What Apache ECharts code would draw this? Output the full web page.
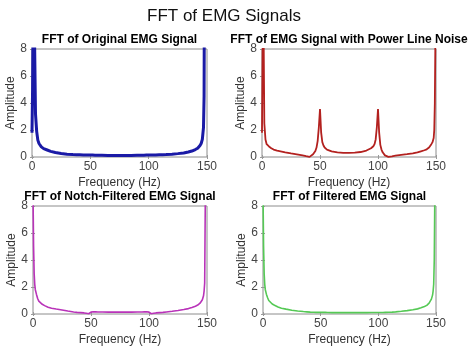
<!DOCTYPE html>
<html>
<head>
<meta charset="UTF-8">
<title>FFT of EMG Signals</title>
<script src="https://cdn.jsdelivr.net/npm/echarts@6/dist/echarts.min.js"></script>
<style>
  html, body { margin: 0; padding: 0; background: #fff; }
  #chart { width: 474px; height: 354px; }
</style>
</head>
<body>
<div id="chart"></div>
<script>
// frequency bins (Hz) shared by the four spectra
var freq = [0, 0.5, 1, 1.5, 2, 3, 4, 5, 6, 8, 10, 13, 16, 20, 25, 30, 35, 38, 41, 44,
    46, 47, 48, 49, 50, 51, 52, 53, 54, 56, 60, 65, 70, 75, 80, 85, 90, 94, 96, 97,
    98, 99, 100, 101, 102, 103, 104, 106, 109, 112, 115, 120, 125, 130, 134, 137, 140, 142, 144, 145,
    146, 147, 147.5, 148, 148.5, 149, 149.5, 150];

// amplitudes (values above 8 are cut by the axis)
var ampOriginal = [1.8, 5, 12, 20, 10, 3.2, 1.9, 1.25, 1.0, 0.75, 0.62, 0.52, 0.42, 0.33, 0.26, 0.21, 0.18, 0.17, 0.16, 0.15,
    0.15, 0.15, 0.14, 0.14, 0.14, 0.14, 0.14, 0.14, 0.13, 0.13, 0.13, 0.12, 0.12, 0.12, 0.12, 0.12, 0.13, 0.13, 0.13, 0.13,
    0.14, 0.14, 0.14, 0.14, 0.14, 0.15, 0.15, 0.15, 0.16, 0.17, 0.18, 0.21, 0.25, 0.3, 0.37, 0.44, 0.55, 0.65, 0.85, 1.0,
    1.3, 2.2, 4.5, 20, 20, 20, 20, 20];
var ampNoisy = [1.8, 8, 20, 8, 2.5, 1.3, 0.95, 0.85, 0.78, 0.65, 0.55, 0.47, 0.42, 0.35, 0.27, 0.2, 0.12, 0.06, 0.01, 0.2,
    0.45, 0.7, 1.2, 2.2, 3.55, 1.8, 1.1, 0.85, 0.7, 0.55, 0.42, 0.35, 0.31, 0.3, 0.32, 0.37, 0.48, 0.65, 0.8, 0.95,
    1.3, 2.2, 3.55, 1.8, 0.9, 0.55, 0.35, 0.12, 0.01, 0.05, 0.1, 0.16, 0.21, 0.27, 0.34, 0.42, 0.5, 0.57, 0.7, 0.8,
    0.95, 1.1, 1.2, 1.4, 2, 4, 9, 20];
var ampNotch = [9, 5, 3, 2.2, 1.8, 1.45, 1.15, 0.95, 0.85, 0.72, 0.62, 0.5, 0.43, 0.37, 0.3, 0.22, 0.15, 0.12, 0.1, 0.08,
    0.05, 0.03, 0.02, 0.03, 0.14, 0.17, 0.17, 0.16, 0.16, 0.15, 0.15, 0.14, 0.14, 0.14, 0.14, 0.14, 0.15, 0.15, 0.16, 0.16,
    0.17, 0.17, 0.14, 0.03, 0.02, 0.03, 0.05, 0.08, 0.1, 0.12, 0.15, 0.2, 0.26, 0.33, 0.4, 0.48, 0.58, 0.66, 0.8, 0.9,
    1.05, 1.35, 1.7, 2.3, 8, 12, 12, 12];
var ampFiltered = [9, 5, 3, 2.2, 1.8, 1.45, 1.2, 1.0, 0.88, 0.74, 0.65, 0.52, 0.43, 0.36, 0.28, 0.22, 0.18, 0.16, 0.14, 0.13,
    0.12, 0.12, 0.12, 0.12, 0.12, 0.12, 0.12, 0.12, 0.12, 0.11, 0.1, 0.1, 0.1, 0.1, 0.1, 0.1, 0.1, 0.11, 0.11, 0.11,
    0.11, 0.11, 0.11, 0.11, 0.11, 0.11, 0.11, 0.12, 0.13, 0.14, 0.16, 0.2, 0.25, 0.31, 0.38, 0.46, 0.56, 0.64, 0.8, 0.92,
    1.1, 1.4, 1.7, 2.2, 4, 9, 12, 12];

var panelTitles = ['FFT of Original EMG Signal', 'FFT of EMG Signal with Power Line Noise',
    'FFT of Notch-Filtered EMG Signal', 'FFT of Filtered EMG Signal'];
var panelData = [ampOriginal, ampNoisy, ampNotch, ampFiltered];
var xMin = 0, xMax = 150, xStep = 50;
var yMin = 0, yMax = 8, yStep = 2;

// layout + looks of each subplot
var boxes = [
    {left: 32, top: 49, width: 175, height: 108},
    {left: 262, top: 49, width: 174, height: 108},
    {left: 33, top: 206, width: 174, height: 108},
    {left: 263, top: 206, width: 173, height: 108}
];
var lineLook = [
    {color: '#1a1aa6', width: 3},
    {color: '#b3211f', width: 1.8},
    {color: '#b933b9', width: 1.6},
    {color: '#55c955', width: 1.6}
];

var chart = echarts.init(document.getElementById('chart'), null, {renderer: 'canvas'});
var fontName = 'Liberation Sans, Arial, sans-serif';

var titles = [{
    text: 'FFT of EMG Signals',
    left: 224, top: 8, textAlign: 'center', padding: 0,
    textStyle: {fontFamily: fontName, fontSize: 17, fontWeight: 'normal', color: '#111'}
}];
var grids = [], xAxes = [], yAxes = [], series = [];

for (var i = 0; i < 4; i++) {
    var b = boxes[i];
    titles.push({
        text: panelTitles[i],
        left: b.left + b.width / 2, top: b.top - 15, textAlign: 'center', padding: 0,
        textStyle: {fontFamily: fontName, fontSize: 12, fontWeight: 'bold', color: '#000'}
    });
    grids.push({
        left: b.left, top: b.top, width: b.width, height: b.height,
        show: true, borderColor: '#8c8c8c', borderWidth: 1, backgroundColor: '#fff'
    });
    // bottom x axis with labels, top one only for ticks
    xAxes.push({
        type: 'value', gridIndex: i, min: xMin, max: xMax, interval: xStep,
        name: 'Frequency (Hz)', nameLocation: 'middle', nameGap: 20,
        nameTextStyle: {fontFamily: fontName, fontSize: 12, color: '#333'},
        axisLine: {show: false},
        axisTick: {show: true, inside: true, length: 2, lineStyle: {color: '#999'}},
        axisLabel: {fontFamily: fontName, fontSize: 12, color: '#444', margin: 4},
        splitLine: {show: false}
    });
    xAxes.push({
        type: 'value', gridIndex: i, position: 'top', min: xMin, max: xMax, interval: xStep,
        axisLine: {show: false},
        axisTick: {show: true, inside: true, length: 2, lineStyle: {color: '#999'}},
        axisLabel: {show: false}, splitLine: {show: false}
    });
    yAxes.push({
        type: 'value', gridIndex: i, min: yMin, max: yMax, interval: yStep,
        name: 'Amplitude', nameLocation: 'middle', nameGap: 11,
        nameTextStyle: {fontFamily: fontName, fontSize: 12, color: '#333'},
        axisLine: {show: false},
        axisTick: {show: true, inside: true, length: 2, lineStyle: {color: '#999'}},
        axisLabel: {fontFamily: fontName, fontSize: 12, color: '#444', margin: 5},
        splitLine: {show: false}
    });
    yAxes.push({
        type: 'value', gridIndex: i, position: 'right', min: yMin, max: yMax, interval: yStep,
        axisLine: {show: false},
        axisTick: {show: true, inside: true, length: 2, lineStyle: {color: '#999'}},
        axisLabel: {show: false}, splitLine: {show: false}
    });
    var amps = panelData[i];
    series.push({
        type: 'line',
        xAxisIndex: i * 2, yAxisIndex: i * 2,
        data: freq.map(function (f, k) { return [f, amps[k]]; }),
        showSymbol: false, symbol: 'none', clip: true,
        lineStyle: {color: lineLook[i].color, width: lineLook[i].width}
    });
}

chart.setOption({
    animation: false,
    backgroundColor: '#fff',
    title: titles,
    grid: grids,
    xAxis: xAxes,
    yAxis: yAxes,
    series: series
});
</script>
</body>
</html>
